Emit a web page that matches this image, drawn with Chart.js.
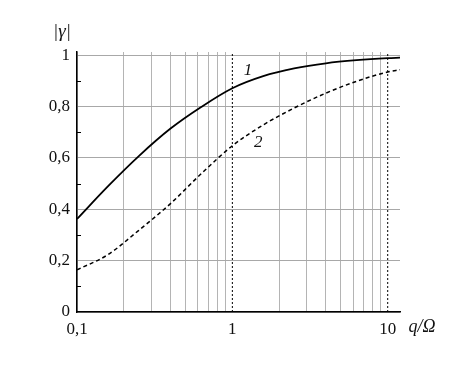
<!DOCTYPE html>
<html>
<head>
<meta charset="utf-8">
<script src="https://cdn.jsdelivr.net/npm/chart.js@4"></script>
<style>
  html, body { margin: 0; padding: 0; background: #fff; }
  #wrap { width: 474px; height: 366px; }
</style>
</head>
<body>
<div id="wrap"><canvas id="c" width="474" height="366"></canvas></div>
<script>
// data (q at roughly even steps on the log axis)
const qValues = [0.1, 0.158, 0.25, 0.4, 0.63, 1, 1.58, 2.5, 4, 6.3, 10, 12];
const curve1 = [0.362, 0.489, 0.607, 0.714, 0.798, 0.871, 0.918, 0.948, 0.968, 0.980, 0.988, 0.990];
const curve2 = [0.164, 0.223, 0.318, 0.422, 0.538, 0.647, 0.728, 0.794, 0.852, 0.898, 0.934, 0.943];
const xTicks = [0.1, 0.2, 0.3, 0.4, 0.5, 0.6, 0.7, 0.8, 0.9, 1, 2, 3, 4, 5, 6, 7, 8, 9, 10];
const xLabels = { 0.1: '0,1', 1: '1', 10: '10' };
const yTicks = [0, 0.1, 0.2, 0.3, 0.4, 0.5, 0.6, 0.7, 0.8, 0.9, 1];
const markerLines = [1, 10];
const curveLabels = [{ text: '1', q: 1.26, y: 0.94 }, { text: '2', q: 1.47, y: 0.661 }];

const serif = '"Liberation Serif", "Times New Roman", Times, serif';
const isMajorY = v => Math.round(v * 10) % 2 === 0;

// Dotted verticals at q = 1 and 10, as datasets
const markerSets = markerLines.map(m => ({
    data: [{ x: m, y: 0 }, { x: m, y: 1.012 }],
    borderColor: '#000', borderWidth: 1, borderDash: [2, 2],
    pointRadius: 0, fill: false
}));

const extras = {
    id: 'extras',
    afterDraw(chart) {
        const ctx = chart.ctx;
        const x = chart.scales.x, y = chart.scales.y;
        const area = chart.chartArea;
        ctx.save();
        // short inward ticks at the odd tenths of the y axis
        ctx.strokeStyle = '#000';
        ctx.lineWidth = 1;
        yTicks.filter(v => !isMajorY(v)).forEach(v => {
            const py = Math.round(y.getPixelForValue(v)) + 0.5;
            ctx.beginPath();
            ctx.moveTo(area.left, py);
            ctx.lineTo(area.left + 4, py);
            ctx.stroke();
        });
        // curve numbers
        ctx.fillStyle = '#111';
        ctx.font = 'italic 17px ' + serif;
        ctx.textAlign = 'center';
        ctx.textBaseline = 'middle';
        curveLabels.forEach(l => {
            ctx.fillText(l.text, x.getPixelForValue(l.q), y.getPixelForValue(l.y));
        });
        // axis names
        ctx.font = 'italic 19px ' + serif;
        ctx.fillText('|\u03B3|', area.left - 15, area.top - 20);
        ctx.font = 'italic 18px ' + serif;
        ctx.fillText('q/\u03A9', area.right + 22, area.bottom + 15);
        ctx.restore();
    }
};

new Chart(document.getElementById('c'), {
    type: 'line',
    data: {
        datasets: [
            {
                data: qValues.map((q, i) => ({ x: q, y: curve1[i] })),
                borderColor: '#000', borderWidth: 1.8,
                pointRadius: 0, fill: false, cubicInterpolationMode: 'monotone'
            },
            {
                data: qValues.map((q, i) => ({ x: q, y: curve2[i] })),
                borderColor: '#000', borderWidth: 1.5, borderDash: [4, 3],
                pointRadius: 0, fill: false, cubicInterpolationMode: 'monotone'
            },
            ...markerSets
        ]
    },
    options: {
        responsive: false,
        animation: false,
        layout: { padding: { top: 52, right: 74, bottom: 0, left: 0 } },
        plugins: { legend: { display: false }, tooltip: { enabled: false } },
        scales: {
            x: {
                type: 'logarithmic',
                min: 0.1,
                max: 12,
                afterBuildTicks: s => { s.ticks = xTicks.map(v => ({ value: v })); },
                afterFit: s => { s.height = 54; },
                ticks: {
                    autoSkip: false, maxRotation: 0, padding: 7,
                    color: '#111', font: { family: serif, size: 17 },
                    callback: v => xLabels[v] || ''
                },
                grid: {
                    drawTicks: false,
                    color: c => (markerLines.includes(c.tick && c.tick.value) ? 'rgba(0,0,0,0)' : '#b4b4b4'),
                    lineWidth: 1
                },
                border: { color: '#000', width: 1.5 }
            },
            y: {
                min: 0,
                max: 1.012,
                afterBuildTicks: s => { s.ticks = yTicks.map(v => ({ value: v })); },
                afterFit: s => { s.width = 77; },
                ticks: {
                    padding: 7,
                    color: '#111', font: { family: serif, size: 17 },
                    callback: v => (isMajorY(v) ? String(Math.round(v * 10) / 10).replace('.', ',') : '')
                },
                grid: {
                    drawTicks: false,
                    color: c => (isMajorY(c.tick.value) ? '#a8a8a8' : 'rgba(0,0,0,0)'),
                    lineWidth: 1
                },
                border: { color: '#000', width: 1.5 }
            }
        }
    },
    plugins: [extras]
});
</script>
</body>
</html>
